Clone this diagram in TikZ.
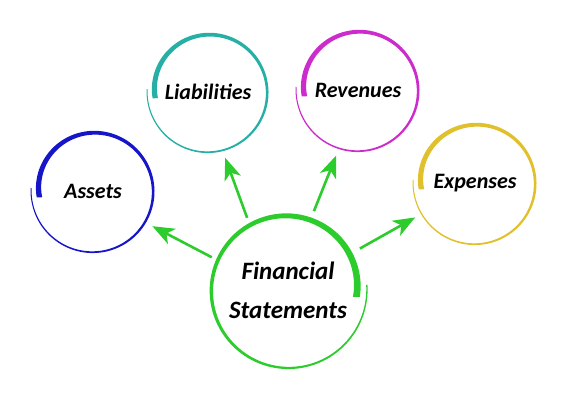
\documentclass[tikz,border=0pt]{standalone}
\usepackage{fontspec}
\setmainfont{Carlito}
\usetikzlibrary{arrows.meta}

\definecolor{assetblue}{RGB}{22,22,200}
\definecolor{liabteal}{RGB}{38,176,165}
\definecolor{revmagenta}{RGB}{204,44,204}
\definecolor{expgold}{RGB}{224,192,44}
\definecolor{fingreen}{RGB}{44,204,44}

% #1 node, #2 radius, #3 colour, #4 start angle, #5 sweep
\newcommand{\swirl}[5]{%
  \fill[#3, shift={(#1)}]
    plot[domain=0:1, samples=120] ({#4+#5*\x}:{#2*(1-0.05*\x-0.08*\x*\x*\x*\x)+#2/62*(0.5+1.2*\x+1.0*\x*\x)})
    -- plot[domain=1:0, samples=120] ({#4+#5*\x}:{#2*(1-0.05*\x-0.08*\x*\x*\x*\x)-#2/62*(0.5+1.2*\x+1.0*\x*\x)})
    -- cycle;}

\begin{document}
\begin{tikzpicture}[x=1pt, y=1pt]
   \tikzset{>={Stealth[length=22pt, width=17pt, inset=6pt]}}
   \tikzset{topic/.style={circle, minimum size=#1, inner sep=0pt, outer sep=0pt,
     font=\bfseries\itshape\fontsize{22}{25}\selectfont}}
   \tikzset{flow/.style={->, draw=fingreen, fill=fingreen, line width=2.6pt,
     shorten <=4pt, shorten >=7pt}}
   \useasboundingbox (0,0) rectangle (576,411);

   \node[topic=124pt] (assets) at (93,220) {Assets};
   \node[topic=122pt] (liab) at (208,319) {Liabilities};
   \node[topic=124pt] (rev) at (358,321) {Revenues};
   \node[topic=124pt] (exp) at (475,228) {Expenses};
   \node[topic=158pt, align=center, font=\bfseries\itshape\fontsize{25}{39}\selectfont]
     (fin) at (288,121) {Financial\\Statements};

   \swirl{assets}{62}{assetblue}{177}{370}
   \swirl{liab}{61}{liabteal}{177}{370}
   \swirl{rev}{62}{revmagenta}{177}{370}
   \swirl{exp}{62}{expgold}{177}{370}
   \swirl{fin}{79}{fingreen}{4}{-370}

   \draw[flow] (fin.157) -- (assets.-31);
   \draw[flow] (fin.120) -- (liab.-76);
   \draw[flow] (fin.72) -- (rev.252);
   \draw[flow] (fin.30) -- (exp.210);
\end{tikzpicture}
\end{document}
